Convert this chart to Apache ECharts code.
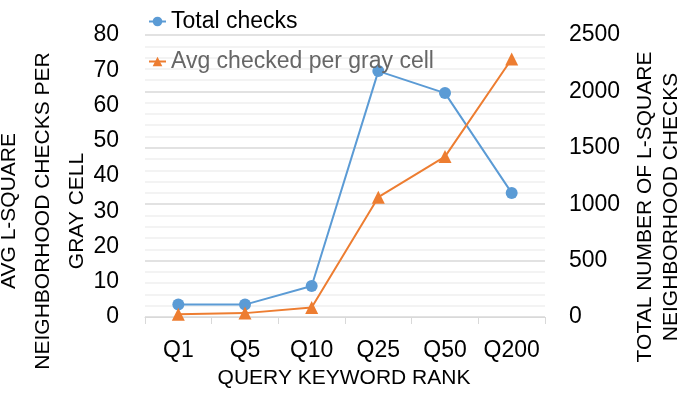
<!DOCTYPE html>
<html>
<head>
<meta charset="utf-8">
<script src="https://cdn.jsdelivr.net/npm/echarts@6/dist/echarts.min.js"></script>
<style>
  html, body { margin: 0; padding: 0; background: #fff; }
  #chart { width: 685px; height: 397px; }
</style>
</head>
<body>
<div id="chart"></div>
<script>
const categories = ['Q1', 'Q5', 'Q10', 'Q25', 'Q50', 'Q200'];
const totalChecks = [110, 110, 275, 2180, 1985, 1100];
const avgPerGrayCell = [0.8, 1.1, 2.7, 34, 45.5, 73.2];
const leftTicks = { min: 0, max: 80, interval: 10 };
const rightTicks = { min: 0, max: 2500, interval: 500 };

const FONT = '"Liberation Sans", Arial, sans-serif';
const TEXT = '#000000';

const chart = echarts.init(document.getElementById('chart'));
chart.setOption({
  animation: false,
  textStyle: { fontFamily: FONT },
  grid: { left: 145, right: 140, top: 35, bottom: 80 },
  legend: [
    {
      left: 143,
      top: 5,
      itemWidth: 17,
      itemHeight: 12,
      itemGap: 0,
      textStyle: { fontSize: 23, color: '#000000', fontFamily: FONT },
      data: [{ name: 'Total checks' }],
    },
    {
      left: 143,
      top: 45,
      itemWidth: 17,
      itemHeight: 12,
      itemGap: 0,
      textStyle: { fontSize: 23, color: '#666666', fontFamily: FONT },
      data: [{ name: 'Avg checked per gray cell' }],
    },
  ],
  xAxis: {
    type: 'category',
    data: categories,
    boundaryGap: true,
    axisLine: { lineStyle: { color: '#d9d9d9', width: 1 } },
    axisTick: { show: true, length: 7, lineStyle: { color: '#d9d9d9' } },
    axisLabel: { interval: 0, fontSize: 23, color: TEXT, margin: 22, fontFamily: FONT },
    splitLine: { show: false },
  },
  yAxis: [
    {
      type: 'value',
      position: 'left',
      ...leftTicks,
      axisLine: { show: false },
      axisTick: { show: false },
      axisLabel: { fontSize: 23, color: TEXT, margin: 26, fontFamily: FONT },
      splitLine: { show: false },
    },
    {
      type: 'value',
      position: 'right',
      ...rightTicks,
      axisLine: { show: false },
      axisTick: { show: false },
      axisLabel: {
        fontSize: 23,
        color: TEXT,
        margin: 24,
        fontFamily: FONT,
        formatter: (v) => String(v),
      },
      splitLine: { show: true, lineStyle: { color: '#d9d9d9', width: 1.5 } },
      minorTick: { show: false, splitNumber: 5 },
      minorSplitLine: { show: true, lineStyle: { color: '#efefef', width: 1.5 } },
    },
  ],
  graphic: [
    {
      type: 'text',
      x: 43,
      y: 211,
      rotation: Math.PI / 2,
      style: {
        text: 'AVG L-SQUARE\nNEIGHBORHOOD CHECKS PER\nGRAY CELL',
        fontSize: 21,
        fontFamily: FONT,
        fill: TEXT,
        align: 'center',
        verticalAlign: 'middle',
        lineHeight: 34,
      },
    },
    {
      type: 'text',
      x: 658,
      y: 207,
      rotation: Math.PI / 2,
      style: {
        text: 'TOTAL NUMBER OF L-SQUARE\nNEIGHBORHOOD CHECKS',
        fontSize: 21,
        fontFamily: FONT,
        fill: TEXT,
        align: 'center',
        verticalAlign: 'middle',
        lineHeight: 26,
      },
    },
    {
      type: 'text',
      x: 344,
      y: 378,
      style: {
        text: 'QUERY KEYWORD RANK',
        fontSize: 21,
        fontFamily: FONT,
        fill: TEXT,
        align: 'center',
        verticalAlign: 'middle',
      },
    },
  ],
  series: [
    {
      name: 'Total checks',
      type: 'line',
      yAxisIndex: 1,
      data: totalChecks,
      symbol: 'circle',
      symbolSize: 12,
      itemStyle: { color: '#5b9bd5' },
      lineStyle: { color: '#5b9bd5', width: 2 },
    },
    {
      name: 'Avg checked per gray cell',
      type: 'line',
      yAxisIndex: 0,
      data: avgPerGrayCell,
      symbol: 'triangle',
      symbolSize: 13,
      itemStyle: { color: '#ed7d31' },
      lineStyle: { color: '#ed7d31', width: 2 },
    },
  ],
});
</script>
</body>
</html>
